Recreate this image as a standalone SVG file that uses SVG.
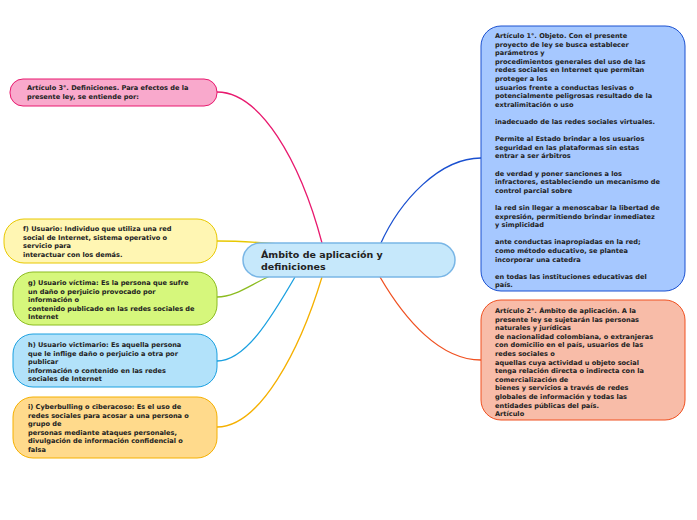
<svg xmlns="http://www.w3.org/2000/svg" width="697" height="520" viewBox="0 0 697 520">
<style>
text{font-family:"DejaVu Sans",Verdana,sans-serif;font-weight:bold;font-size:6.6px;fill:#222}
.c{fill:none;stroke-width:1.3}
.t{font-size:9.5px}
</style>
<rect width="697" height="520" fill="#fff"/>
<g id="connectors">
<path class="c" stroke="#e8196e" d="M322,243 C300,160 260,92 217,92"/>
<path class="c" stroke="#e8c800" d="M300,246 C270,243 240,241 217,241"/>
<path class="c" stroke="#8cbc20" d="M270,276 C250,285 235,297 217,297"/>
<path class="c" stroke="#1aa0e0" d="M295,277 C270,320 245,361 217,361"/>
<path class="c" stroke="#f5b000" d="M322,277 C300,350 260,427 217,427"/>
<path class="c" stroke="#1a50d0" d="M380,245 C400,200 440,158 481,158"/>
<path class="c" stroke="#f05020" d="M380,277 C405,320 440,360 481,360"/>
</g>
<g id="center">
<rect x="243" y="243" width="212" height="34" rx="17" fill="#c6e8fb" stroke="#79b6e6" stroke-width="1.5"/>
<text class="t" x="261" y="258">Ámbito de aplicación y</text>
<text class="t" x="261" y="270">definiciones</text>
</g>
<g id="art1">
<rect x="481" y="26" width="204" height="265" rx="20" fill="#a6c8ff" stroke="#1a50d0"/>
<text x="495" y="38">
<tspan x="495">Artículo 1°. Objeto. Con el presente</tspan>
<tspan x="495" dy="8.6">proyecto de ley se busca establecer</tspan>
<tspan x="495" dy="8.6">parámetros y</tspan>
<tspan x="495" dy="8.6">procedimientos generales del uso de las</tspan>
<tspan x="495" dy="8.6">redes sociales en Internet que permitan</tspan>
<tspan x="495" dy="8.6">proteger a los</tspan>
<tspan x="495" dy="8.6">usuarios frente a conductas lesivas o</tspan>
<tspan x="495" dy="8.6">potencialmente peligrosas resultado de la</tspan>
<tspan x="495" dy="8.6">extralimitación o uso</tspan>
<tspan x="495" dy="17.2">inadecuado de las redes sociales virtuales.</tspan>
<tspan x="495" dy="17.2">Permite al Estado brindar a los usuarios</tspan>
<tspan x="495" dy="8.6">seguridad en las plataformas sin estas</tspan>
<tspan x="495" dy="8.6">entrar a ser árbitros</tspan>
<tspan x="495" dy="17.2">de verdad y poner sanciones a los</tspan>
<tspan x="495" dy="8.6">infractores, estableciendo un mecanismo de</tspan>
<tspan x="495" dy="8.6">control parcial sobre</tspan>
<tspan x="495" dy="17.2">la red sin llegar a menoscabar la libertad de</tspan>
<tspan x="495" dy="8.6">expresión, permitiendo brindar inmediatez</tspan>
<tspan x="495" dy="8.6">y simplicidad</tspan>
<tspan x="495" dy="17.2">ante conductas inapropiadas en la red;</tspan>
<tspan x="495" dy="8.6">como método educativo, se plantea</tspan>
<tspan x="495" dy="8.6">incorporar una catedra</tspan>
<tspan x="495" dy="17.2">en todas las instituciones educativas del</tspan>
<tspan x="495" dy="8.6">país.</tspan>
</text>
</g>
<g id="art2">
<rect x="481" y="300" width="204" height="120" rx="20" fill="#f8bca8" stroke="#f05020"/>
<text x="495" y="313">
<tspan x="495">Artículo 2°. Ámbito de aplicación. A la</tspan>
<tspan x="495" dy="8.6">presente ley se sujetarán las personas</tspan>
<tspan x="495" dy="8.6">naturales y jurídicas</tspan>
<tspan x="495" dy="8.6">de nacionalidad colombiana, o extranjeras</tspan>
<tspan x="495" dy="8.6">con domicilio en el país, usuarios de las</tspan>
<tspan x="495" dy="8.6">redes sociales o</tspan>
<tspan x="495" dy="8.6">aquellas cuya actividad u objeto social</tspan>
<tspan x="495" dy="8.6">tenga relación directa o indirecta con la</tspan>
<tspan x="495" dy="8.6">comercialización de</tspan>
<tspan x="495" dy="8.6">bienes y servicios a través de redes</tspan>
<tspan x="495" dy="8.6">globales de información y todas las</tspan>
<tspan x="495" dy="8.6">entidades públicas del país.</tspan>
<tspan x="495" dy="8.6">Artículo</tspan>
</text>
</g>
<g id="art3">
<rect x="10" y="79" width="207" height="27" rx="13" fill="#f9a9cc" stroke="#e8196e"/>
<text x="27" y="90"><tspan x="27">Artículo 3°. Definiciones. Para efectos de la</tspan><tspan x="27" dy="8.6">presente ley, se entiende por:</tspan></text>
</g>
<g id="f">
<rect x="4" y="219" width="213" height="44" rx="20" fill="#fff6b3" stroke="#e8c800"/>
<text x="23" y="231"><tspan x="23">f) Usuario: Individuo que utiliza una red</tspan><tspan x="23" dy="8.6">social de Internet, sistema operativo o</tspan><tspan x="23" dy="8.6">servicio para</tspan><tspan x="23" dy="8.6">interactuar con los demás.</tspan></text>
</g>
<g id="g">
<rect x="13" y="272" width="204" height="53" rx="20" fill="#d6f77c" stroke="#8cbc20"/>
<text x="28" y="285"><tspan x="28">g) Usuario víctima: Es la persona que sufre</tspan><tspan x="28" dy="8.6">un daño o perjuicio provocado por</tspan><tspan x="28" dy="8.6">información o</tspan><tspan x="28" dy="8.6">contenido publicado en las redes sociales de</tspan><tspan x="28" dy="8.6">Internet</tspan></text>
</g>
<g id="h">
<rect x="13" y="334" width="204" height="53" rx="20" fill="#b2e2fa" stroke="#1aa0e0"/>
<text x="28" y="347"><tspan x="28">h) Usuario victimario: Es aquella persona</tspan><tspan x="28" dy="8.6">que le inflige daño o perjuicio a otra por</tspan><tspan x="28" dy="8.6">publicar</tspan><tspan x="28" dy="8.6">información o contenido en las redes</tspan><tspan x="28" dy="8.6">sociales de Internet</tspan></text>
</g>
<g id="i">
<rect x="13" y="397" width="204" height="61" rx="20" fill="#ffda8c" stroke="#f5b000"/>
<text x="28" y="409"><tspan x="28">i) Cyberbulling o ciberacoso: Es el uso de</tspan><tspan x="28" dy="8.6">redes sociales para acosar a una persona o</tspan><tspan x="28" dy="8.6">grupo de</tspan><tspan x="28" dy="8.6">personas mediante ataques personales,</tspan><tspan x="28" dy="8.6">divulgación de información confidencial o</tspan><tspan x="28" dy="8.6">falsa</tspan></text>
</g>
</svg>
